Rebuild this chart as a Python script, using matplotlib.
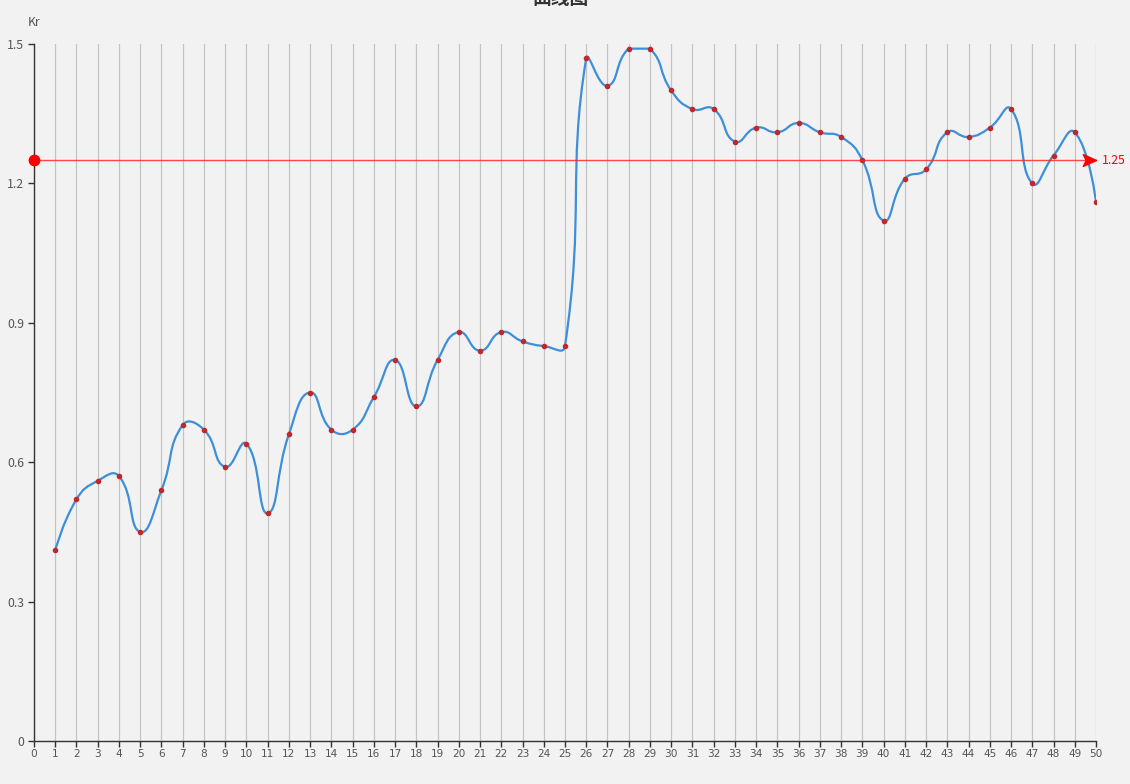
import numpy as np
import matplotlib
matplotlib.use("Agg")
import matplotlib.pyplot as plt
from matplotlib.path import Path
from matplotlib.patches import PathPatch

plt.rcParams['font.family'] = ['Noto Sans CJK SC', 'DejaVu Sans']

# ---- data ----
title = "曲线图"
y_name = "Kr"
x_labels = [str(i) for i in range(0, 51)]
x_vals = list(range(1, 51))
kr_vals = [0.41, 0.52, 0.56, 0.57, 0.45, 0.54, 0.68, 0.67, 0.59, 0.64,
           0.49, 0.66, 0.75, 0.67, 0.67, 0.74, 0.82, 0.72, 0.82, 0.88,
           0.84, 0.88, 0.86, 0.85, 0.85, 1.47, 1.41, 1.49, 1.49, 1.40,
           1.36, 1.36, 1.29, 1.32, 1.31, 1.33, 1.31, 1.30, 1.25, 1.12,
           1.21, 1.23, 1.31, 1.30, 1.32, 1.36, 1.20, 1.26, 1.31, 1.16]
mark_value = 1.25
y_ticks = [0, 0.3, 0.6, 0.9, 1.2, 1.5]
y_tick_labels = ["0", "0.3", "0.6", "0.9", "1.2", "1.5"]

# ---- figure ----
W, H = 1130, 784
fig = plt.figure(figsize=(W / 100, H / 100), dpi=100)
bg = "#f2f2f2"
fig.patch.set_facecolor(bg)
ax_l, ax_r, ax_t, ax_b = 34, 1096, 44, 741
ax = fig.add_axes([ax_l / W, (H - ax_b) / H, (ax_r - ax_l) / W, (ax_b - ax_t) / H])
ax.set_facecolor(bg)
ax.set_xlim(0, 50)
ax.set_ylim(0, 1.5)

# gridlines (vertical)
for xv in range(1, 51):
    ax.axvline(xv, color="#c4c4c4", lw=0.9, zorder=0)

# spines
for s in ["top", "right"]:
    ax.spines[s].set_visible(False)
ax.spines["left"].set_color("#333333")
ax.spines["bottom"].set_color("#333333")
ax.spines["left"].set_linewidth(1.0)
ax.spines["bottom"].set_linewidth(1.0)

ax.set_xticks(range(0, 51))
ax.set_xticklabels(x_labels, fontsize=7.6, color="#555555", family="DejaVu Sans")
ax.set_yticks(y_ticks)
ax.set_yticklabels(y_tick_labels, fontsize=8.8, color="#555555")
ax.tick_params(axis="x", length=4, width=1, color="#333333", pad=2)
ax.tick_params(axis="y", length=4, width=1, color="#333333", pad=3)

# ---- smooth curve (ECharts-style bezier, computed in pixel space) ----
sx = (ax_r - ax_l) / 50.0
sy = (ax_b - ax_t) / 1.5
P = np.column_stack([np.array(x_vals, float) * sx, np.array(kr_vals, float) * sy])
smin = P.min(axis=0)
smax = P.max(axis=0)
smooth = 0.5
verts = [P[0].copy()]
codes = [Path.MOVETO]
cp1 = P[0].copy()
n = len(P)
for i in range(1, n):
    p = P[i]
    prev = P[i - 1]
    ratio = 0.5
    v = np.zeros(2)
    if i + 1 >= n:
        cp0 = p.copy()
    else:
        nxt = P[i + 1]
        v = nxt - prev
        lp = np.hypot(*(p - prev))
        ln = np.hypot(*(p - nxt))
        ratio = ln / (ln + lp)
        cp0 = p - v * smooth * (1 - ratio)
    cp0 = np.maximum(np.minimum(cp0, smax), smin)
    cp1 = np.maximum(np.minimum(cp1, smax), smin)
    verts += [cp1.copy(), cp0.copy(), p.copy()]
    codes += [Path.CURVE4] * 3
    cp1 = p + v * smooth * ratio

verts = np.array(verts) / np.array([sx, sy])
path = Path(verts, codes)
ax.add_patch(PathPatch(path, facecolor="none", edgecolor="#3d8fd9", lw=1.6,
                       zorder=3, capstyle="round", joinstyle="round"))

ax.plot(x_vals, kr_vals, linestyle="none", marker="o", markersize=3.0,
        color="#c0282a", zorder=4)

# ---- mark line ----
ax.plot([0, 50], [mark_value, mark_value], color="#ff2020", lw=1.0, alpha=0.8, zorder=5,
        clip_on=False)
ax.plot([0], [mark_value], marker="o", markersize=7.5, color="#ff0000",
        linestyle="none", zorder=6, clip_on=False)
arrow = Path([(0, 0), (-1, 0.45), (-0.78, 0), (-1, -0.45), (0, 0)],
             [Path.MOVETO, Path.LINETO, Path.LINETO, Path.LINETO, Path.CLOSEPOLY])
ax.plot([50], [mark_value], marker=arrow, markersize=19, color="#ff0000",
        linestyle="none", zorder=6, clip_on=False)
ax.annotate(f"{mark_value:.2f}", xy=(50, mark_value), xytext=(4, 0),
            textcoords="offset points", va="center", ha="left",
            fontsize=8.8, color="#ff0000", annotation_clip=False)

# ---- texts ----
fig.text(ax_l / W, 1 - 22 / H, y_name, ha="center", va="center",
         fontsize=8.8, color="#555555")
fig.text(560 / W, 1 + 1 / H, title, ha="center", va="center",
         fontsize=13.5, fontweight="bold", color="#333333")

fig.savefig("out.png", dpi=100, facecolor=bg)
